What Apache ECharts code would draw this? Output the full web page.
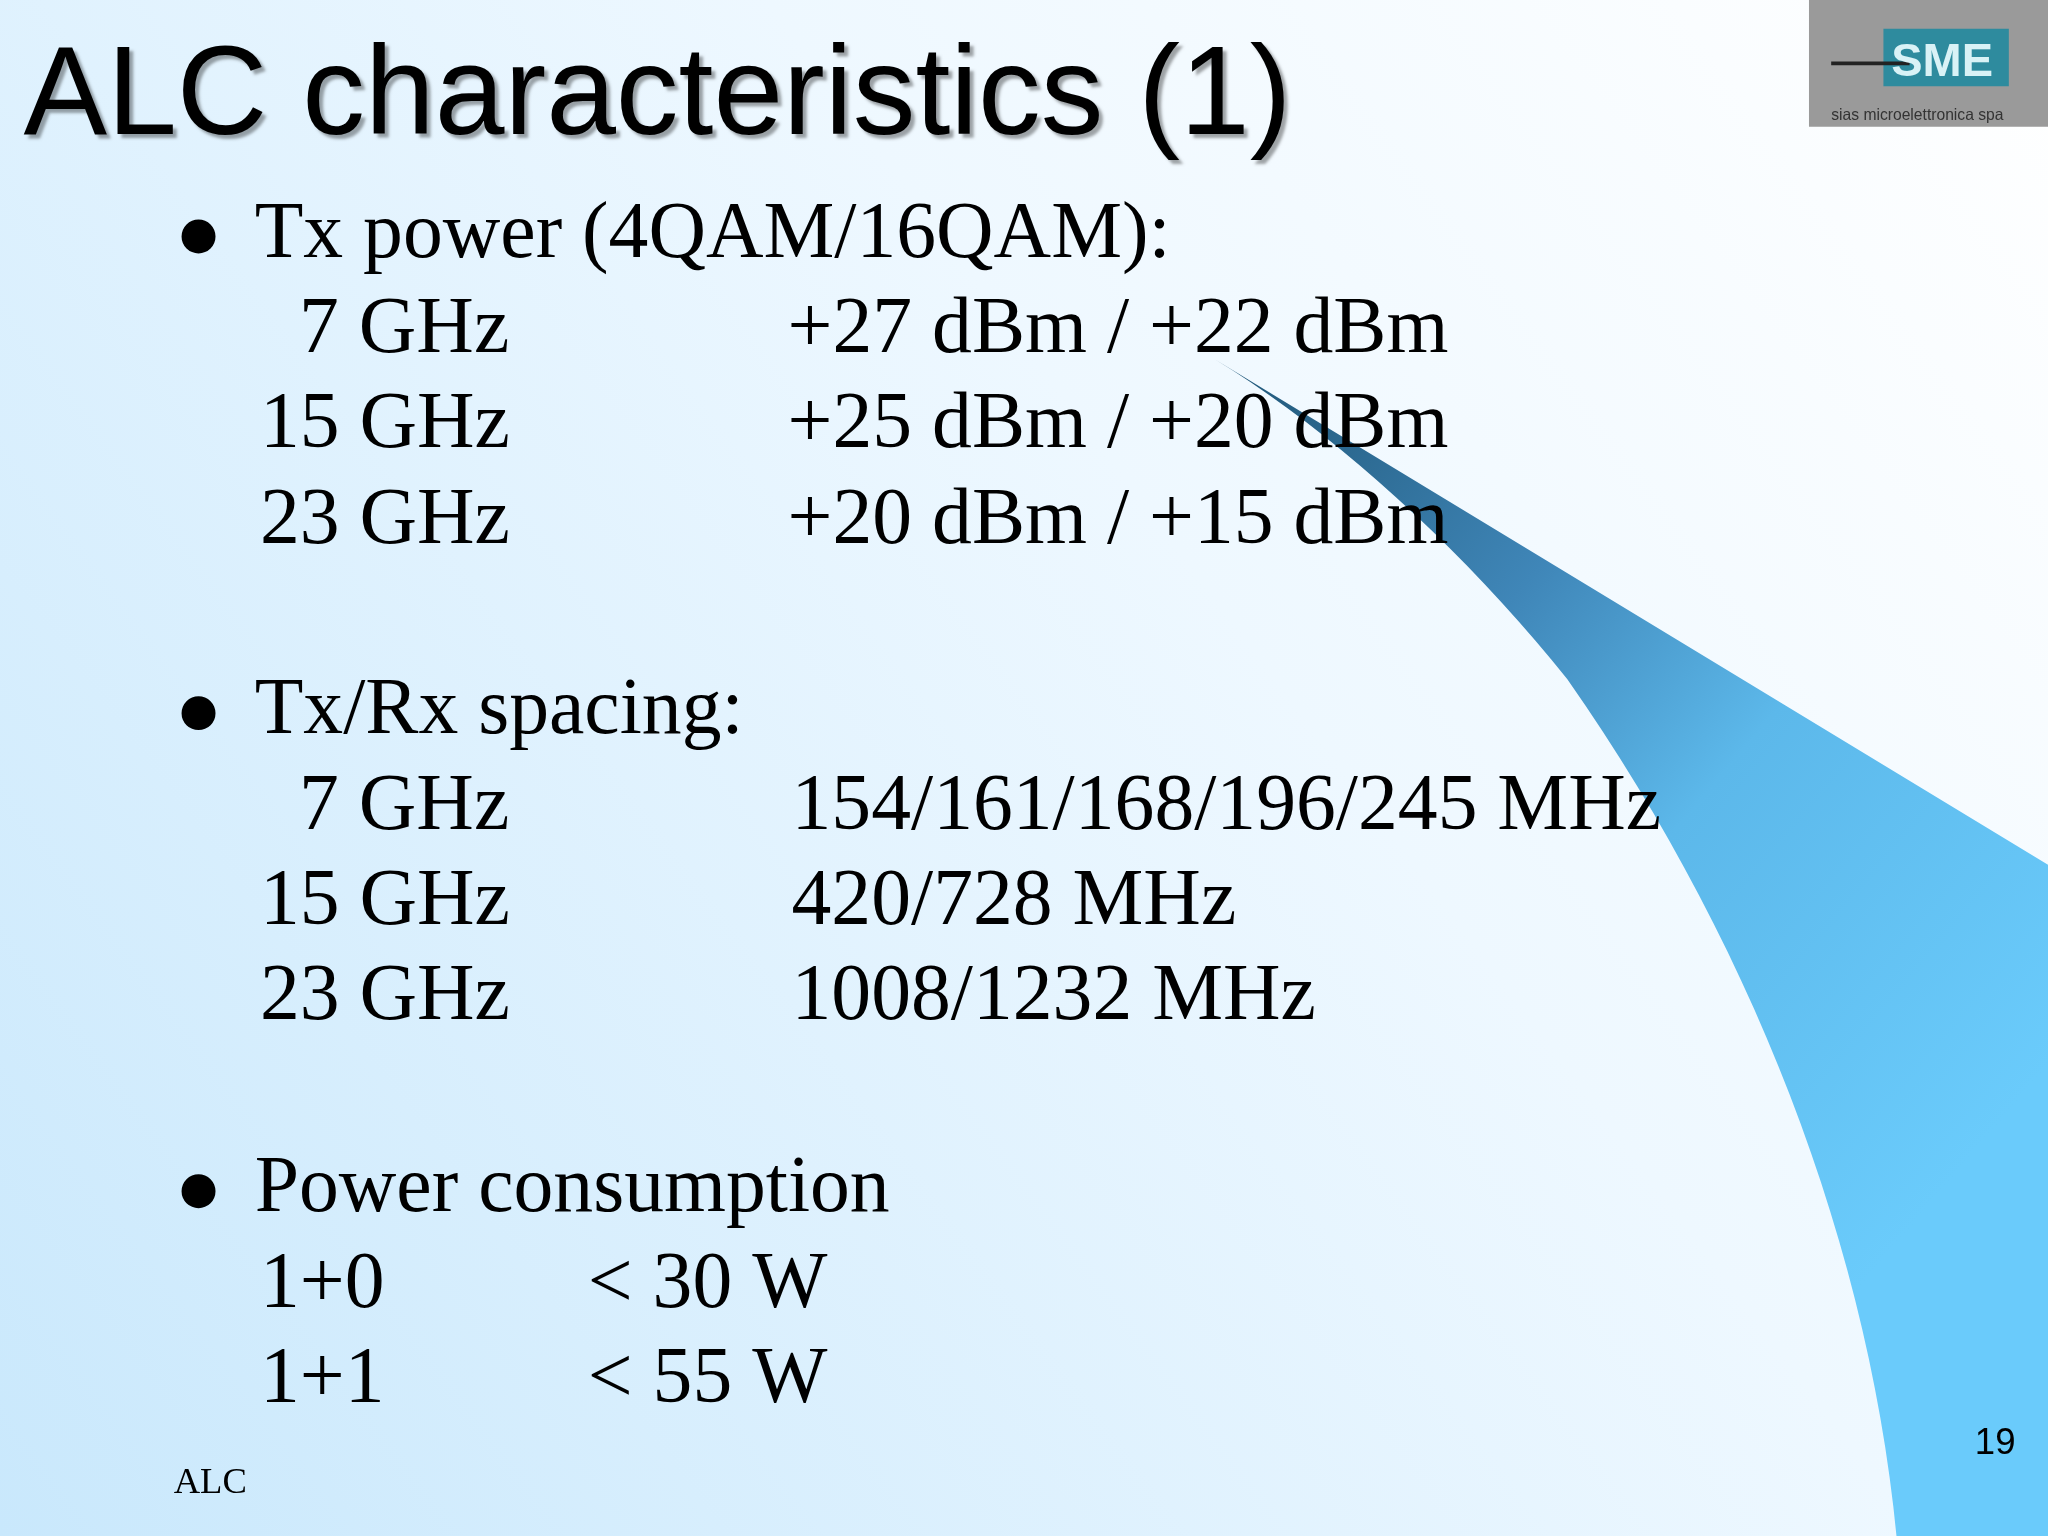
<!DOCTYPE html>
<html><head><meta charset="utf-8">
<script src="https://cdn.jsdelivr.net/npm/echarts@6/dist/echarts.min.js"></script>
<style>html,body{margin:0;padding:0;}#c{width:2048px;height:1536px;}</style>
</head><body><div id="c"></div>
<script>
const title = "ALC characteristics (1)";
const bullets = ["Tx power (4QAM/16QAM):", "Tx/Rx spacing:", "Power consumption"];
const powerRows = [["  7 GHz", "+27 dBm / +22 dBm"], ["15 GHz", "+25 dBm / +20 dBm"], ["23 GHz", "+20 dBm / +15 dBm"]];
const spacingRows = [["  7 GHz", "154/161/168/196/245 MHz"], ["15 GHz", "420/728 MHz"], ["23 GHz", "1008/1232 MHz"]];
const consRows = [["1+0", "< 30 W"], ["1+1", "< 55 W"]];
const footer = "ALC";
const pageNo = "19";

const S = 2048 / 1568;
const serif = '"Liberation Serif","DejaVu Serif",serif';
const sans = '"Liberation Sans",Arial,sans-serif';
const fs = 61 * S;
const els = [];
function txt(x, y, t, size, font, fill, extraStyle) {
  els.push({type: 'text', x: x * S, y: y * S, z: 10,
    style: Object.assign({text: t, font: size + 'px ' + font, fill: fill || '#000', verticalAlign: 'bottom', align: 'left'}, extraStyle || {})});
}
els.push({type: 'rect', shape: {x: 0, y: 0, width: 2048, height: 1536}, z: 0,
  style: {fill: new echarts.graphic.LinearGradient(0, 1, 1, 0, [{offset: 0, color: '#c9e8fc'}, {offset: 0.6, color: '#eef8ff'}, {offset: 1, color: '#ffffff'}])}});
function cubic(p0, p1, p2, p3, n) {
  const out = [];
  for (let i = 0; i <= n; i++) {
    const t = i / n, u = 1 - t;
    out.push([(u*u*u*p0[0] + 3*u*u*t*p1[0] + 3*u*t*t*p2[0] + t*t*t*p3[0]) * S,
              (u*u*u*p0[1] + 3*u*u*t*p1[1] + 3*u*t*t*p2[1] + t*t*t*p3[1]) * S]);
  }
  return out;
}
let pts = [[930*S, 275*S], [1568*S, 662*S], [1568*S, 1176*S]];
pts = pts.concat(cubic([1452, 1176], [1430, 950], [1340, 720], [1200, 520], 30));
pts = pts.concat(cubic([1200, 520], [1120, 420], [1020, 330], [930, 275], 20));
els.push({type: 'polygon', z: 1, shape: {points: pts},
  style: {fill: new echarts.graphic.LinearGradient(0, 0, 1, 0.6, [{offset: 0, color: '#1f5575'}, {offset: 0.35, color: '#3f86b8'}, {offset: 0.6, color: '#5cb8ea'}, {offset: 1, color: '#6acbfb'}])}});
els.push({type: 'rect', z: 5, shape: {x: 1385 * S, y: 0, width: 183 * S, height: 97 * S}, style: {fill: '#9a9a9a'}});
els.push({type: 'rect', z: 6, shape: {x: 1442 * S, y: 22 * S, width: 96 * S, height: 44 * S}, style: {fill: '#2e8b9e'}});
els.push({type: 'rect', z: 7, shape: {x: 1402 * S, y: 47 * S, width: 60 * S, height: 3 * S}, style: {fill: '#222'}});
txt(1448, 66, 'SME', 36 * S, sans, '#d9f2f6', {font: 'bold ' + (36 * S) + 'px ' + sans});
txt(1402, 95, 'sias microelettronica spa', 12 * S, sans, '#333');
txt(18, 124, title, 96 * S, sans, '#000', {textShadowColor: 'rgba(0,0,0,0.35)', textShadowOffsetX: 4, textShadowOffsetY: 4, textShadowBlur: 3});
const groups = [[198, bullets[0], powerRows, 603], [563, bullets[1], spacingRows, 606], [929, bullets[2], consRows, 450]];
const lh = 73;
groups.forEach(([y0, b, rows, c2]) => {
  els.push({type: 'circle', z: 10, shape: {cx: 152 * S, cy: (y0 - 17) * S, r: 13 * S}, style: {fill: '#000'}});
  txt(195, y0 + 13, b, fs, serif);
  rows.forEach((r, i) => {
    const y = y0 + lh * (i + 1) + 13;
    txt(r[0].startsWith('  ') ? 229 : 199, y, r[0].trim(), fs, serif);
    txt(c2, y, r[1], fs, serif);
  });
});
txt(133, 1150, footer, 28 * S, serif);
txt(1512, 1120, pageNo, 28 * S, sans);

const chart = echarts.init(document.getElementById('c'));
chart.setOption({animation: false, graphic: {elements: els}});
</script></body></html>
